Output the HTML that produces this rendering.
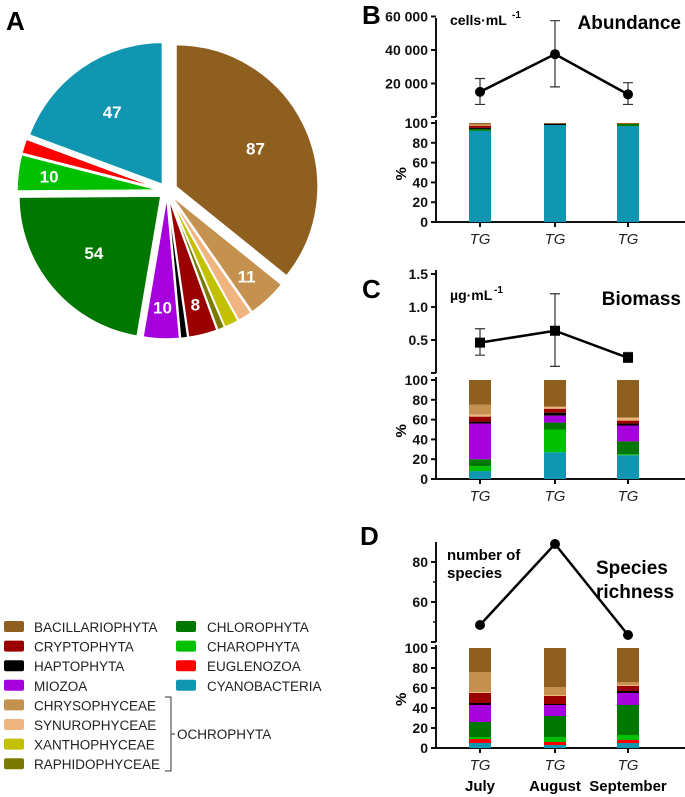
<!DOCTYPE html>
<html><head><meta charset="utf-8"><style>
body{margin:0;background:#fff;}
svg{display:block;font-family:"Liberation Sans",Arial,sans-serif;}
.t{font-size:14px;font-weight:bold;fill:#111;}
.lg{font-size:13.5px;fill:#222;}
</style></head><body>
<svg id="s" width="685" height="797" viewBox="0 0 685 797">
<text x="6" y="30" font-size="26" font-weight="bold">A</text>
<g id="pie"></g>
<g id="legend"></g>
<g id="panels"></g>
</svg>
<script>
const NS='http://www.w3.org/2000/svg';
function mk(tag,attrs,parent,txt){const e=document.createElementNS(NS,tag);for(const k in attrs)e.setAttribute(k,attrs[k]);if(txt!==undefined)e.textContent=txt;parent.appendChild(e);return e;}
// ---- data ----
const groups=['BACILLARIOPHYTA','CHRYSOPHYCEAE','SYNUROPHYCEAE','XANTHOPHYCEAE','RAPHIDOPHYCEAE','CRYPTOPHYTA','HAPTOPHYTA','MIOZOA','CHLOROPHYTA','CHAROPHYTA','EUGLENOZOA','CYANOBACTERIA'];
const colors=['#8f5f20','#c4914e','#f0b47e','#c3c000','#7b7a00','#9b0000','#000000','#a600dc','#007800','#00c000','#ff0000','#1096b0'];
const pieValues=[87,11,4,4,2,8,2,10,54,10,4,47];
const pieLabels=['87','11','','','','8','','10','54','10','','47'];
const months=['July','August','September'];
const stackOrder=['CYANOBACTERIA','EUGLENOZOA','CHAROPHYTA','CHLOROPHYTA','MIOZOA','HAPTOPHYTA','CRYPTOPHYTA','RAPHIDOPHYCEAE','XANTHOPHYCEAE','SYNUROPHYCEAE','CHRYSOPHYCEAE','BACILLARIOPHYTA'];
const abundStack=[[92,0,0,2,0,1,2,0,0,0,2,1],[98,0,0,0,0,1,0,0,0,0,0,1],[97,0,0,2,0,0,0,0,0,0,0,1]];
const biomassStack=[[8,0,5,7,36,2,5,0,0,2,10,25],[27,0,23,7,7,3,4,0,0,2,0,27],[24,0,1,13,16,2,3,0,0,3,0,38]];
const richStack=[[5,4,2,15,17,2,10,0,0,1,20,24],[3,3,5,21,11,1,8,0,0,1,8,39],[5,3,5,30,12,2,5,0,0,1,3,34]];
const abundMean=[15000,37500,13500], abundLo=[7500,18000,7500], abundHi=[23000,57500,20500];
const bioMean=[0.46,0.64,0.23], bioLo=[0.27,0.10,0.18], bioHi=[0.67,1.20,0.31];
const richMean=[48.5,89,43.5];
const abundTicks=[20000,40000,60000], abundTickLbl=['20 000','40 000','60 000'];
const bioTicks=[0.5,1.0,1.5], bioTickLbl=['0.5','1.0','1.5'];
const richTicks=[60,80], richTickLbl=['60','80'];
const pctTicks=[0,20,40,60,80,100];
const colorOf=n=>colors[groups.indexOf(n)];

// ---- pie ----
const pie=document.getElementById('pie');
const cx=167,cy=191,R=142;
const total=pieValues.reduce((a,b)=>a+b,0);
const explode=[10,6,6,6,6,6,6,6,8,8,8,8];
let a0=0;
pieValues.forEach((v,i)=>{
  const a1=a0+v/total*2*Math.PI, am=(a0+a1)/2;
  const ox=cx+explode[i]*Math.sin(am), oy=cy-explode[i]*Math.cos(am);
  const x0=ox+R*Math.sin(a0),y0=oy-R*Math.cos(a0),x1=ox+R*Math.sin(a1),y1=oy-R*Math.cos(a1);
  const p=mk('path',{d:`M${ox},${oy}L${x0},${y0}A${R},${R} 0 ${a1-a0>Math.PI?1:0} 1 ${x1},${y1}Z`,fill:colors[i],stroke:'#fff','stroke-width':1.5},pie);
  
  
  if(pieLabels[i]){
    const rr=v<15?R*0.78:R*0.62;
    const t=mk('text',{x:ox+rr*Math.sin(am),y:oy-rr*Math.cos(am)+6,'text-anchor':'middle','font-size':17,'font-weight':'bold',fill:'#fff'},pie,pieLabels[i]);
    
    
  }
  a0=a1;
});

// ---- legend ----
const lg=document.getElementById('legend');
const col1=['BACILLARIOPHYTA','CRYPTOPHYTA','HAPTOPHYTA','MIOZOA','CHRYSOPHYCEAE','SYNUROPHYCEAE','XANTHOPHYCEAE','RAPHIDOPHYCEAE'];
const col2=['CHLOROPHYTA','CHAROPHYTA','EUGLENOZOA','CYANOBACTERIA'];
[[col1,4,34],[col2,176,207]].forEach(([list,sx,tx])=>{
  list.forEach((n,i)=>{
    const y=627+i*19.6;
    const g=mk('g',{},lg);
    
    
    mk('rect',{x:sx,y:y-6,width:20,height:11,rx:2,fill:colorOf(n)},g);
    mk('text',{x:tx,y:y+5,class:'lg'},g,n);
  });
});
mk('path',{d:'M165,697H171V771H165',fill:'none',stroke:'#333','stroke-width':1},lg);
mk('line',{x1:171,y1:734,x2:175,y2:734,stroke:'#333'},lg);
const oc=mk('text',{x:177,y:739,class:'lg'},lg,'OCHROPHYTA');



// ---- panels ----
const P=document.getElementById('panels');
const barX=[480,555,628], xAxisL=436, xAxisR=685;
function panel(cfg){
  const g=mk('g',{},P);
  
  
  mk('text',{x:cfg.letterX,y:cfg.letterY,'font-size':26,'font-weight':'bold'},g,cfg.letter);
  const ty=v=>cfg.tBot-(v-cfg.tMin)/(cfg.tMax-cfg.tMin)*(cfg.tBot-cfg.tTop);
  mk('line',{x1:xAxisL,y1:cfg.tTop,x2:xAxisL,y2:cfg.tBot,stroke:'#111','stroke-width':2},g);
  mk('line',{x1:xAxisL-5,y1:cfg.tBot,x2:xAxisL,y2:cfg.tBot,stroke:'#111','stroke-width':2},g);
  cfg.ticks.forEach((t,i)=>{
    mk('line',{x1:xAxisL-5,y1:ty(t),x2:xAxisL,y2:ty(t),stroke:'#111','stroke-width':2},g);
    mk('text',{x:xAxisL-8,y:ty(t)+5,'text-anchor':'end',class:'t'},g,cfg.tickLbl[i]);
  });
  (cfg.minor||[]).forEach(t=>mk('line',{x1:xAxisL-3,y1:ty(t),x2:xAxisL,y2:ty(t),stroke:'#111','stroke-width':1.5},g));
  if(cfg.lo) cfg.mean.forEach((m,i)=>{
    const e=mk('path',{d:`M${barX[i]},${ty(cfg.lo[i])}V${ty(cfg.hi[i])}M${barX[i]-5},${ty(cfg.lo[i])}h10M${barX[i]-5},${ty(cfg.hi[i])}h10`,stroke:'#333','stroke-width':1.2,fill:'none'},g);
    
    
  });
  const ln=mk('polyline',{points:cfg.mean.map((m,i)=>barX[i]+','+ty(m)).join(' '),fill:'none',stroke:'#000','stroke-width':2.5},g);
  
  
  cfg.mean.forEach((m,i)=>{
    const pt=cfg.square?mk('rect',{x:barX[i]-5,y:ty(m)-5,width:10,height:10,fill:'#000'},g):mk('circle',{cx:barX[i],cy:ty(m),r:5,fill:'#000'},g);
    
    
  });
  cfg.texts.forEach(t=>mk('text',t.a,g,t.s));
  const by=v=>cfg.b0-v/100*(cfg.b0-cfg.b100);
  mk('line',{x1:xAxisL,y1:cfg.b100-3,x2:xAxisL,y2:cfg.b0,stroke:'#111','stroke-width':2},g);
  mk('line',{x1:xAxisL-5,y1:cfg.b0,x2:xAxisR,y2:cfg.b0,stroke:'#111','stroke-width':2},g);
  pctTicks.forEach(t=>{
    mk('line',{x1:xAxisL-5,y1:by(t),x2:xAxisL,y2:by(t),stroke:'#111','stroke-width':2},g);
    mk('text',{x:xAxisL-8,y:by(t)+5,'text-anchor':'end',class:'t'},g,String(t));
  });
  mk('text',{x:0,y:0,transform:`translate(${xAxisL-30},${(cfg.b0+cfg.b100)/2+8}) rotate(-90)`,'font-size':15,'font-weight':'bold'},g,'%');
  cfg.stack.forEach((st,i)=>{
    let acc=0;
    st.forEach((v,k)=>{
      if(v>0){
        const r=mk('rect',{x:barX[i]-11,y:by(acc+v),width:22,height:by(acc)-by(acc+v),fill:colorOf(stackOrder[k])},g);
        
        
      }
      acc+=v;
    });
    mk('line',{x1:barX[i],y1:cfg.b0,x2:barX[i],y2:cfg.b0+5,stroke:'#111','stroke-width':2},g);
    mk('text',{x:barX[i],y:cfg.b0+22,'text-anchor':'middle','font-size':15,'font-style':'italic',fill:'#222'},g,'TG');
  });
  return g;
}
panel({name:'panel-b-abundance',letter:'B',letterX:362,letterY:24,tTop:18,tBot:117,tMin:0,tMax:60000*99/100.5,
  ticks:abundTicks,tickLbl:abundTickLbl,mean:abundMean,lo:abundLo,hi:abundHi,
  b100:123,b0:222,stack:abundStack,
  texts:[{a:{x:450,y:25,'font-size':14,'font-weight':'bold'},s:'cells·mL'},{a:{x:512,y:18,'font-size':10,'font-weight':'bold'},s:'-1'},{a:{x:681,y:29,'text-anchor':'end','font-size':19,'font-weight':'bold'},s:'Abundance'}]});
panel({name:'panel-c-biomass',letter:'C',letterX:362,letterY:298,tTop:270,tBot:373,tMin:0,tMax:1.56,
  ticks:bioTicks,tickLbl:bioTickLbl,mean:bioMean,lo:bioLo,hi:bioHi,square:true,
  b100:380,b0:479,stack:biomassStack,
  texts:[{a:{x:450,y:300,'font-size':14,'font-weight':'bold'},s:'µg·mL'},{a:{x:494,y:293,'font-size':10,'font-weight':'bold'},s:'-1'},{a:{x:681,y:305,'text-anchor':'end','font-size':19,'font-weight':'bold'},s:'Biomass'}]});
panel({name:'panel-d-species-richness',letter:'D',letterX:360,letterY:545,tTop:542,tBot:642,tMin:40,tMax:90,
  ticks:richTicks,tickLbl:richTickLbl,minor:[50,70],mean:richMean,
  b100:648,b0:748,stack:richStack,
  texts:[{a:{x:447,y:560,'font-size':15,'font-weight':'bold'},s:'number of'},{a:{x:447,y:578,'font-size':15,'font-weight':'bold'},s:'species'},
   {a:{x:596,y:574,'font-size':19,'font-weight':'bold'},s:'Species'},{a:{x:596,y:598,'font-size':19,'font-weight':'bold'},s:'richness'}]});
months.forEach((m,i)=>{
  const t=mk('text',{x:barX[i],y:791,'text-anchor':'middle','font-size':15,'font-weight':'bold'},P,m);
  
  
});
</script>
</body></html>
